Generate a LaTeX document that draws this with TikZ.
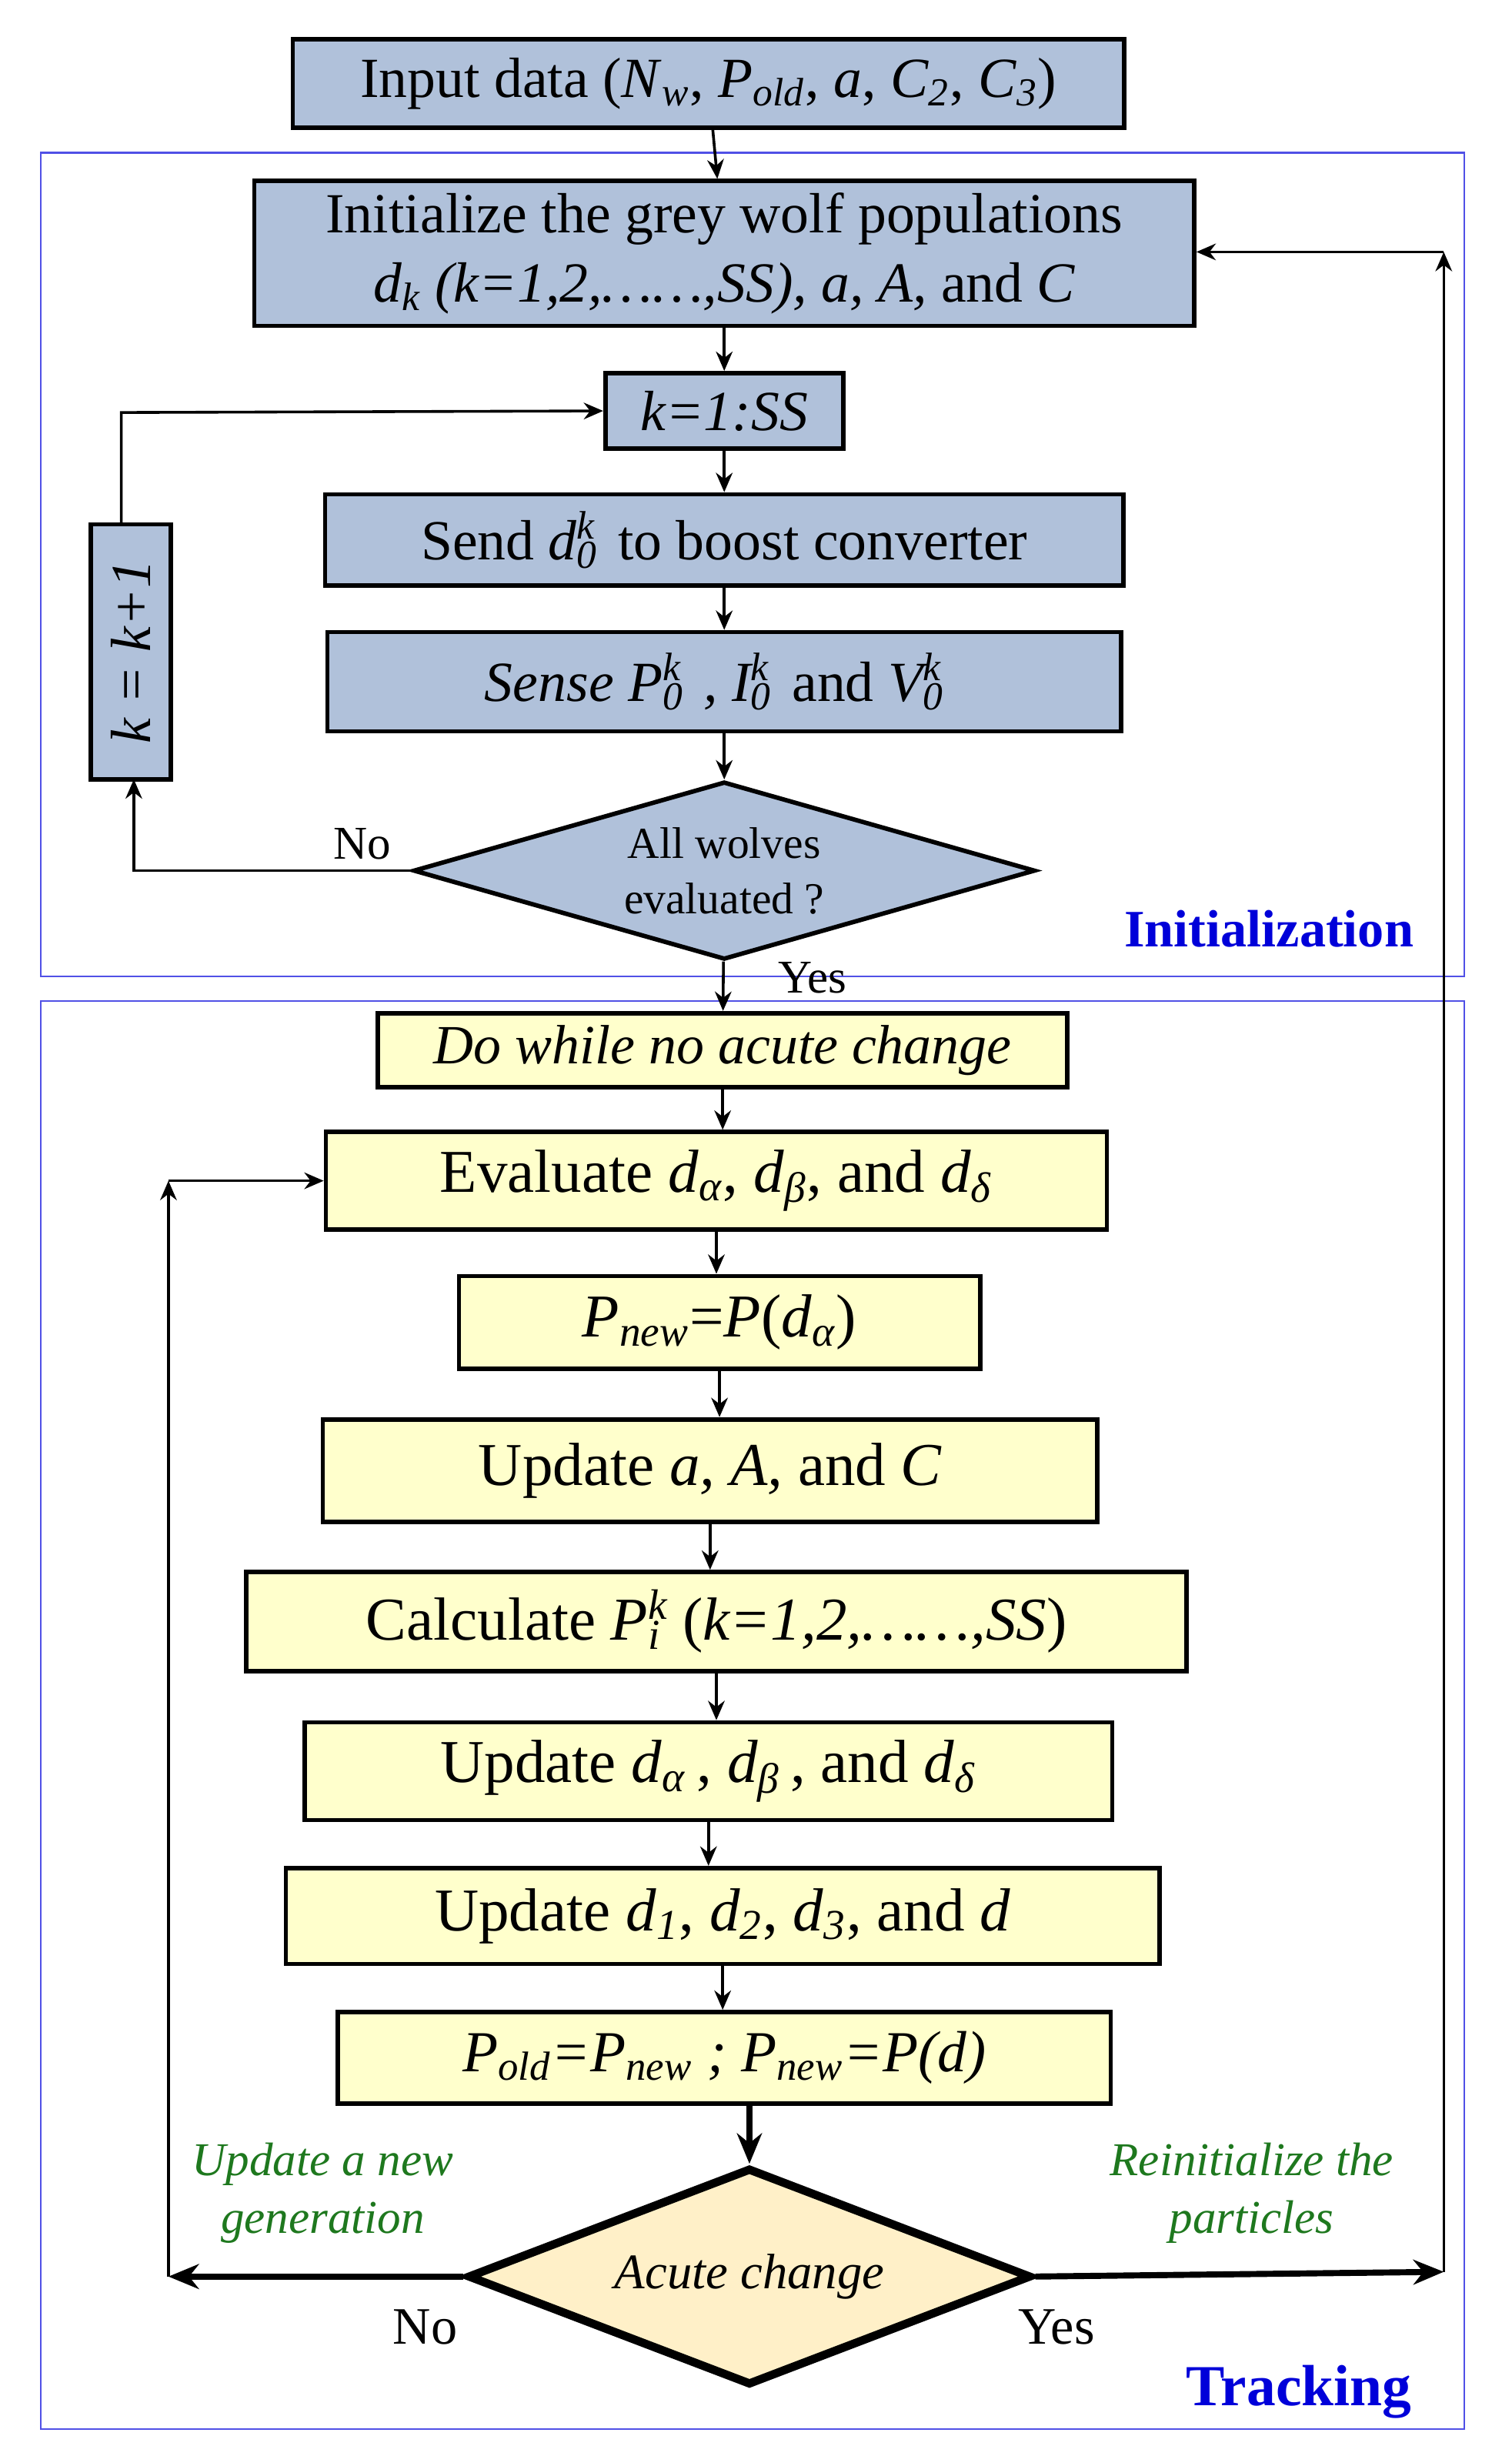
\documentclass[tikz,border=0pt]{standalone}
\usepackage{fontspec}
\setmainfont{Liberation Serif}
\usetikzlibrary{shapes.geometric,arrows.meta}
\definecolor{boxblue}{RGB}{176,193,218}
\definecolor{boxyellow}{RGB}{255,255,204}
\definecolor{boxtan}{RGB}{255,240,200}
\definecolor{framblue}{RGB}{80,80,230}
\definecolor{labgreen}{RGB}{30,120,30}
% italic variable with subscript / stacked sub+superscript
\newcommand\varsb[2]{\textit{#1}\textsubscript{\textit{#2}}}
\newcommand\varss[3]{\textit{#1}\makebox[0pt][l]{\textsuperscript{\textit{#3}}}\textsubscript{\textit{#2}}\hspace{0.35em}}
\begin{document}
\begin{tikzpicture}[x=0.02cm,y=-0.02cm,
  >={Stealth[length=7pt,width=6pt]},
  bbox/.style={draw=black, line width=1.6pt, fill=boxblue, inner sep=0pt, align=center, font=\fontsize{20.5}{25}\selectfont},
  ybox/.style={draw=black, line width=1.6pt, fill=boxyellow, inner sep=0pt, align=center, font=\fontsize{22}{26}\selectfont},
  frame/.style={draw=framblue, line width=0.6pt},
  line/.style={draw=black, line width=1pt},
  thick line/.style={draw=black, line width=2.2pt, >={Stealth[length=11pt,width=9pt]}},
  green/.style={text=labgreen, font=\itshape\fontsize{17}{21}\selectfont, align=center},
  lab/.style={font=\fontsize{17}{20}\selectfont}]
\useasboundingbox (0,0) rectangle (960,1560);
% frames
\draw[frame] (26,97) rectangle (930,620);
\draw[frame] (26,636) rectangle (930,1543);
% initialization part
\node[bbox, minimum width=528*0.02cm, minimum height=56*0.02cm] (in) at (450,53) {Input data (\varsb{N}{w}, \varsb{P}{old}, \textit{a}, \varsb{C}{2}, \varsb{C}{3})};
\node[bbox, minimum width=597*0.02cm, minimum height=92*0.02cm] (init) at (460,161) {Initialize the grey wolf populations\\ \itshape \varsb{d}{k} (k=1,2,\dots\dots,SS), a, A, \upshape and \itshape C};
\node[bbox, minimum width=151*0.02cm, minimum height=48*0.02cm, font=\itshape\fontsize{20.5}{25}\selectfont] (kl) at (460,261) {k=1:SS};
\node[bbox, minimum width=507*0.02cm, minimum height=58*0.02cm] (send) at (460,343) {Send \varss{d}{0}{k}to boost converter};
\node[bbox, minimum width=504*0.02cm, minimum height=63*0.02cm] (sense) at (460,433) {\itshape Sense \varss{P}{0}{k}, \varss{I}{0}{k}\upshape and \itshape \varss{V}{0}{k}};
\node[diamond, draw=black, line width=1.6pt, fill=boxblue, aspect=3.5, inner sep=0pt, minimum width=395*0.02cm, minimum height=113*0.02cm, align=center, font=\fontsize{16}{20}\selectfont] (all) at (460,553) {All wolves\\evaluated ?};
\node[bbox, minimum width=162*0.02cm, minimum height=51*0.02cm, rotate=90, font=\itshape\fontsize{20.5}{25}\selectfont] (kk) at (83,414) {k = k+1};
\coordinate (c1) at (85,553);
\coordinate (c2) at (77,262);
\draw[line,->] (in) -- (init);
\draw[line,->] (init) -- (kl);
\draw[line,->] (kl) -- (send);
\draw[line,->] (send) -- (sense);
\draw[line,->] (sense) -- (all);
\draw[line,->] (all.west) -- (c1) -- (85,495);
\draw[line,->] (77,333) -- (c2) -- (kl.west);
\node[lab] (no1) at (230,536) {No};
\node[lab] (yes1) at (516,621) {Yes};
\node[text=blue!85!black, font=\bfseries\fontsize{19}{23}\selectfont] (tin) at (806,590) {Initialization};
% tracking part
\node[ybox, minimum width=438*0.02cm, minimum height=47*0.02cm, font=\itshape\fontsize{20}{24}\selectfont] (dw) at (459,667) {Do while no acute change};
\node[ybox, minimum width=496*0.02cm, minimum height=62*0.02cm] (ev) at (455,750) {Evaluate \varsb{d}{α}, \varsb{d}{β}, and \varsb{d}{δ}};
\node[ybox, minimum width=331*0.02cm, minimum height=59*0.02cm] (pn) at (457,840) {\varsb{P}{new}=\textit{P}(\varsb{d}{α})};
\node[ybox, minimum width=492*0.02cm, minimum height=65*0.02cm] (ua) at (451,934) {Update \itshape a, A, \upshape and \itshape C};
\node[ybox, minimum width=597*0.02cm, minimum height=63*0.02cm] (ca) at (455,1030) {Calculate \varss{P}{i}{k}(\itshape k=1,2,\dots\dots,SS\upshape)};
\node[ybox, minimum width=513*0.02cm, minimum height=62*0.02cm] (ud) at (450,1125) {Update \varsb{d}{α}\,, \varsb{d}{β}\,, and \varsb{d}{δ}};
\node[ybox, minimum width=555*0.02cm, minimum height=61*0.02cm] (u1) at (459,1217) {Update \varsb{d}{1}, \varsb{d}{2}, \varsb{d}{3}, and \textit{d}};
\node[ybox, minimum width=491*0.02cm, minimum height=58*0.02cm, font=\itshape\fontsize{21}{25}\selectfont] (po) at (460,1307) {\varsb{P}{old}=\varsb{P}{new} ; \varsb{P}{new}=P(d)};
\node[diamond, draw=black, line width=3pt, fill=boxtan, aspect=2.6, inner sep=0pt, minimum width=358*0.02cm, minimum height=138*0.02cm, font=\itshape\fontsize{18}{22}\selectfont] (ac) at (476,1446) {Acute change};
\draw[line,->] (all) -- (dw);
\draw[line,->] (dw) -- (dw |- ev.north);
\draw[line,->] (ev) -- (ev |- pn.north);
\draw[line,->] (pn) -- (pn |- ua.north);
\draw[line,->] (ua) -- (ua |- ca.north);
\draw[line,->] (ca) -- (ca |- ud.north);
\draw[line,->] (ud) -- (ud |- u1.north);
\draw[line,->] (u1) -- (u1 |- po.north);
\draw[thick line,->] (po.south -| ac) -- (ac.north);
\coordinate (cl) at (107,1446);
\coordinate (cr) at (917,1443);
\draw[thick line,->] (ac.west) -- (cl);
\draw[line,->] (cl) -- (107,750);
\draw[line,->] (107,750) -- (ev.west);
\draw[thick line,->] (ac.east) -- (cr);
\draw[line,->] (cr) -- (917,160);
\draw[line,->] (917,160) -- (init.east |- 0,160);
\node[green] (gl) at (205,1393) {Update a new\\generation};
\node[green] (gr) at (795,1393) {Reinitialize the\\particles};
\node[lab, font=\fontsize{19}{22}\selectfont] (no2) at (270,1478) {No};
\node[lab, font=\fontsize{19}{22}\selectfont] (yes2) at (671,1478) {Yes};
\node[text=blue!85!black, font=\bfseries\fontsize{21}{25}\selectfont] (ttr) at (825,1519) {Tracking};
\end{tikzpicture}
\end{document}
